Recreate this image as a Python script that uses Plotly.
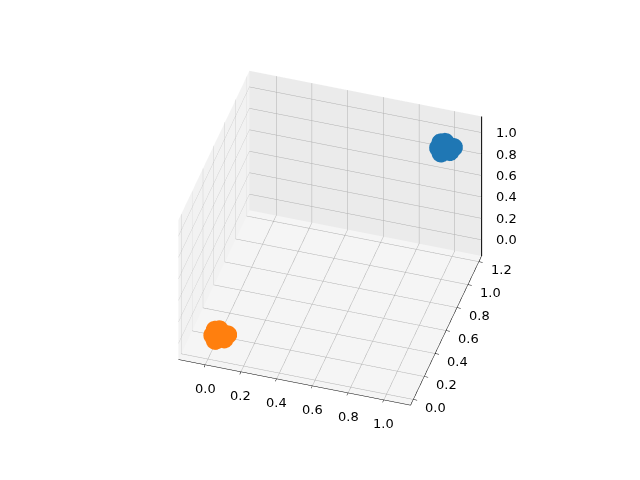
import plotly.graph_objects as go

# Cluster points
blue_x = [0.98, 1.02, 1.03, 0.97, 1.00, 1.02, 0.98, 1.01, 0.96, 1.04, 0.99, 1.01, 1.00, 0.98]
blue_y = [1.08, 1.10, 1.06, 1.09, 1.11, 1.08, 1.06, 1.07, 1.08, 1.09, 1.10, 1.06, 1.08, 1.07]
blue_z = [1.00, 0.97, 0.99, 1.02, 0.98, 1.01, 0.96, 1.03, 0.98, 1.00, 1.02, 1.01, 0.99, 1.00]

orange_x = [0.04, 0.08, 0.09, 0.03, 0.06, 0.08, 0.04, 0.07, 0.02, 0.10, 0.05, 0.07, 0.06, 0.05]
orange_y = [0.02, 0.04, 0.00, 0.03, 0.05, 0.02, 0.00, 0.01, 0.02, 0.03, 0.04, 0.01, 0.02, 0.03]
orange_z = [0.08, 0.05, 0.07, 0.10, 0.06, 0.09, 0.04, 0.11, 0.06, 0.08, 0.10, 0.09, 0.07, 0.08]

x_ticks = [0.0, 0.2, 0.4, 0.6, 0.8, 1.0]
y_ticks = [0.0, 0.2, 0.4, 0.6, 0.8, 1.0, 1.2]
z_ticks = [0.0, 0.2, 0.4, 0.6, 0.8, 1.0]

x_rng = [-0.15, 1.15]
y_rng = [-0.05, 1.25]
z_rng = [-0.15, 1.15]

fig = go.Figure()
fig.add_trace(go.Scatter3d(x=blue_x, y=blue_y, z=blue_z, mode="markers",
                           marker=dict(size=11, color="#1f77b4", opacity=1, line=dict(width=0)),
                           showlegend=False, hoverinfo="skip"))
fig.add_trace(go.Scatter3d(x=orange_x, y=orange_y, z=orange_z, mode="markers",
                           marker=dict(size=11, color="#ff7f0e", opacity=1, line=dict(width=0)),
                           showlegend=False, hoverinfo="skip"))
# z axis line on the right-hand back edge, as matplotlib draws it
fig.add_trace(go.Scatter3d(x=[x_rng[1], x_rng[1]], y=[y_rng[1], y_rng[1]], z=z_rng,
                           mode="lines", line=dict(color="black", width=2),
                           showlegend=False, hoverinfo="skip"))

def ax(ticks, rng, bg, ticks_on=True):
    return dict(
        range=rng, tickvals=ticks, showticklabels=False,
        title=dict(text=""), showbackground=True, backgroundcolor=bg,
        gridcolor="#b0b0b0", gridwidth=1, showline=ticks_on, linecolor="black",
        zeroline=False, ticks="outside" if ticks_on else "", tickcolor="black", ticklen=4,
        showspikes=False,
    )

font = dict(family="DejaVu Sans", size=13, color="black")
annotations = []
for t in x_ticks:
    annotations.append(dict(x=t, y=y_rng[0], z=z_rng[0], text=f"{t:.1f}", showarrow=False,
                            xanchor="center", yanchor="top", yshift=-14, font=font))
for t in y_ticks:
    annotations.append(dict(x=x_rng[1], y=t, z=z_rng[0], text=f"{t:.1f}", showarrow=False,
                            xanchor="left", yanchor="middle", xshift=10, yshift=-8, font=font))
for t in z_ticks:
    annotations.append(dict(x=x_rng[1], y=y_rng[1], z=t, text=f"{t:.1f}", showarrow=False,
                            xanchor="left", yanchor="middle", xshift=12, font=font))

fig.update_layout(
    width=640, height=480,
    paper_bgcolor="white", plot_bgcolor="white",
    margin=dict(l=110, r=106, t=31, b=51),
    scene=dict(
        xaxis=ax(x_ticks, x_rng, "#f2f2f2"),
        yaxis=ax(y_ticks, y_rng, "#ebebeb"),
        zaxis=ax(z_ticks, z_rng, "#f5f5f5", ticks_on=False),
        aspectmode="manual", aspectratio=dict(x=1.22, y=1.22, z=0.915),
        camera=dict(eye=dict(x=0.298, y=-0.974, z=0.855), center=dict(x=0, y=0, z=0),
                    up=dict(x=0, y=0, z=1),
                    projection=dict(type="orthographic")),
        annotations=annotations,
    ),
)
fig.write_html("out.html")
